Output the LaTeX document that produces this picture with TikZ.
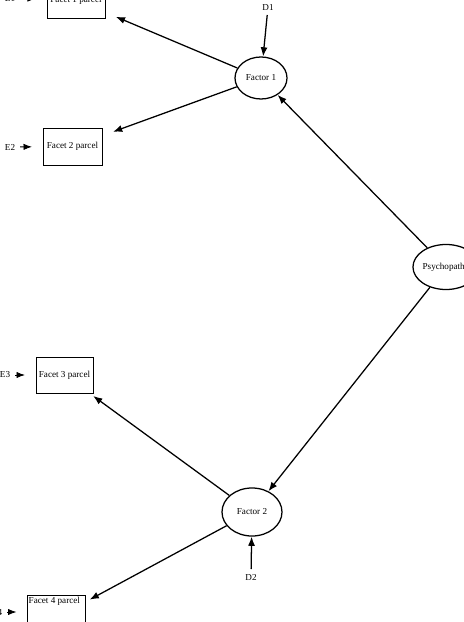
\documentclass[tikz,border=0pt]{standalone}
\usepackage{fontspec}
\setmainfont{Liberation Serif}
\usetikzlibrary{arrows.meta,shapes.geometric}
\begin{document}
\begin{tikzpicture}[x=0.025cm, y=-0.025cm,
        every node/.style = {font=\fontsize{6.5}{8}\selectfont},
        factor/.style = {draw, ellipse, line width=0.9pt, inner sep=0pt},
        parcel/.style = {draw, rectangle, line width=0.7pt, inner sep=0pt},
        path/.style = {-{Latex[length=6.5pt, width=5pt]}, line width=0.9pt},
        err/.style = {-{Latex[length=6pt, width=4.5pt]}, line width=0.6pt, shorten >=7.5pt}]
        \useasboundingbox (0,0) rectangle (464,622);
        \clip (0,0) rectangle (464,622);
        \node[factor, minimum width=1.3cm, minimum height=1.05cm] (f1) at (261,78) {Factor 1};
        \node[factor, minimum width=1.65cm, minimum height=1.125cm] (psy) at (446,267) {Psychopathy};
        \node[factor, minimum width=1.5cm, minimum height=1.2cm] (f2) at (252,512) {Factor 2};
        \node[parcel, minimum width=1.45cm, minimum height=0.925cm] (p1) at (76,0) {Facet 1 parcel};
        \node[parcel, minimum width=1.475cm, minimum height=0.925cm] (p2) at (72.5,146.5) {Facet 2 parcel};
        \node[parcel, minimum width=1.425cm, minimum height=0.9cm] (p3) at (64.5,375) {Facet 3 parcel};
        \node[parcel, minimum width=1.45cm, minimum height=1.1cm, anchor=north west] (p4) at (27,595) {};
        \node[anchor=north west, inner sep=1pt] at (p4.north west) {Facet 4 parcel};
        \node (d1) at (268,7) {D1};
        \node (d2) at (251,577) {D2};
        \node (e1) at (10,-2) {E1};
        \node (e2) at (10,147) {E2};
        \node (e3) at (5,375) {E3};
        \node (e4) at (-3,612) {E4};
        \draw[path] (d1) -- (f1);
        \draw[path] (d2) -- (f2);
        \draw[path, shorten >=8pt] (f1) -- (p1);
        \draw[path, shorten >=8pt] (f1) -- (p2);
        \draw[path] (psy) -- (f1);
        \draw[path] (psy) -- (f2);
        \draw[path, shorten >=3pt] (f2) -- (p3);
        \draw[path, shorten >=3pt] (f2) -- (p4);
        \draw[err] (e1) -- (p1);
        \draw[err] (e2) -- (p2);
        \draw[err] (e3) -- (p3);
        \draw[err] (e4) -- (p4.west |- e4);
    \end{tikzpicture}
\end{document}
